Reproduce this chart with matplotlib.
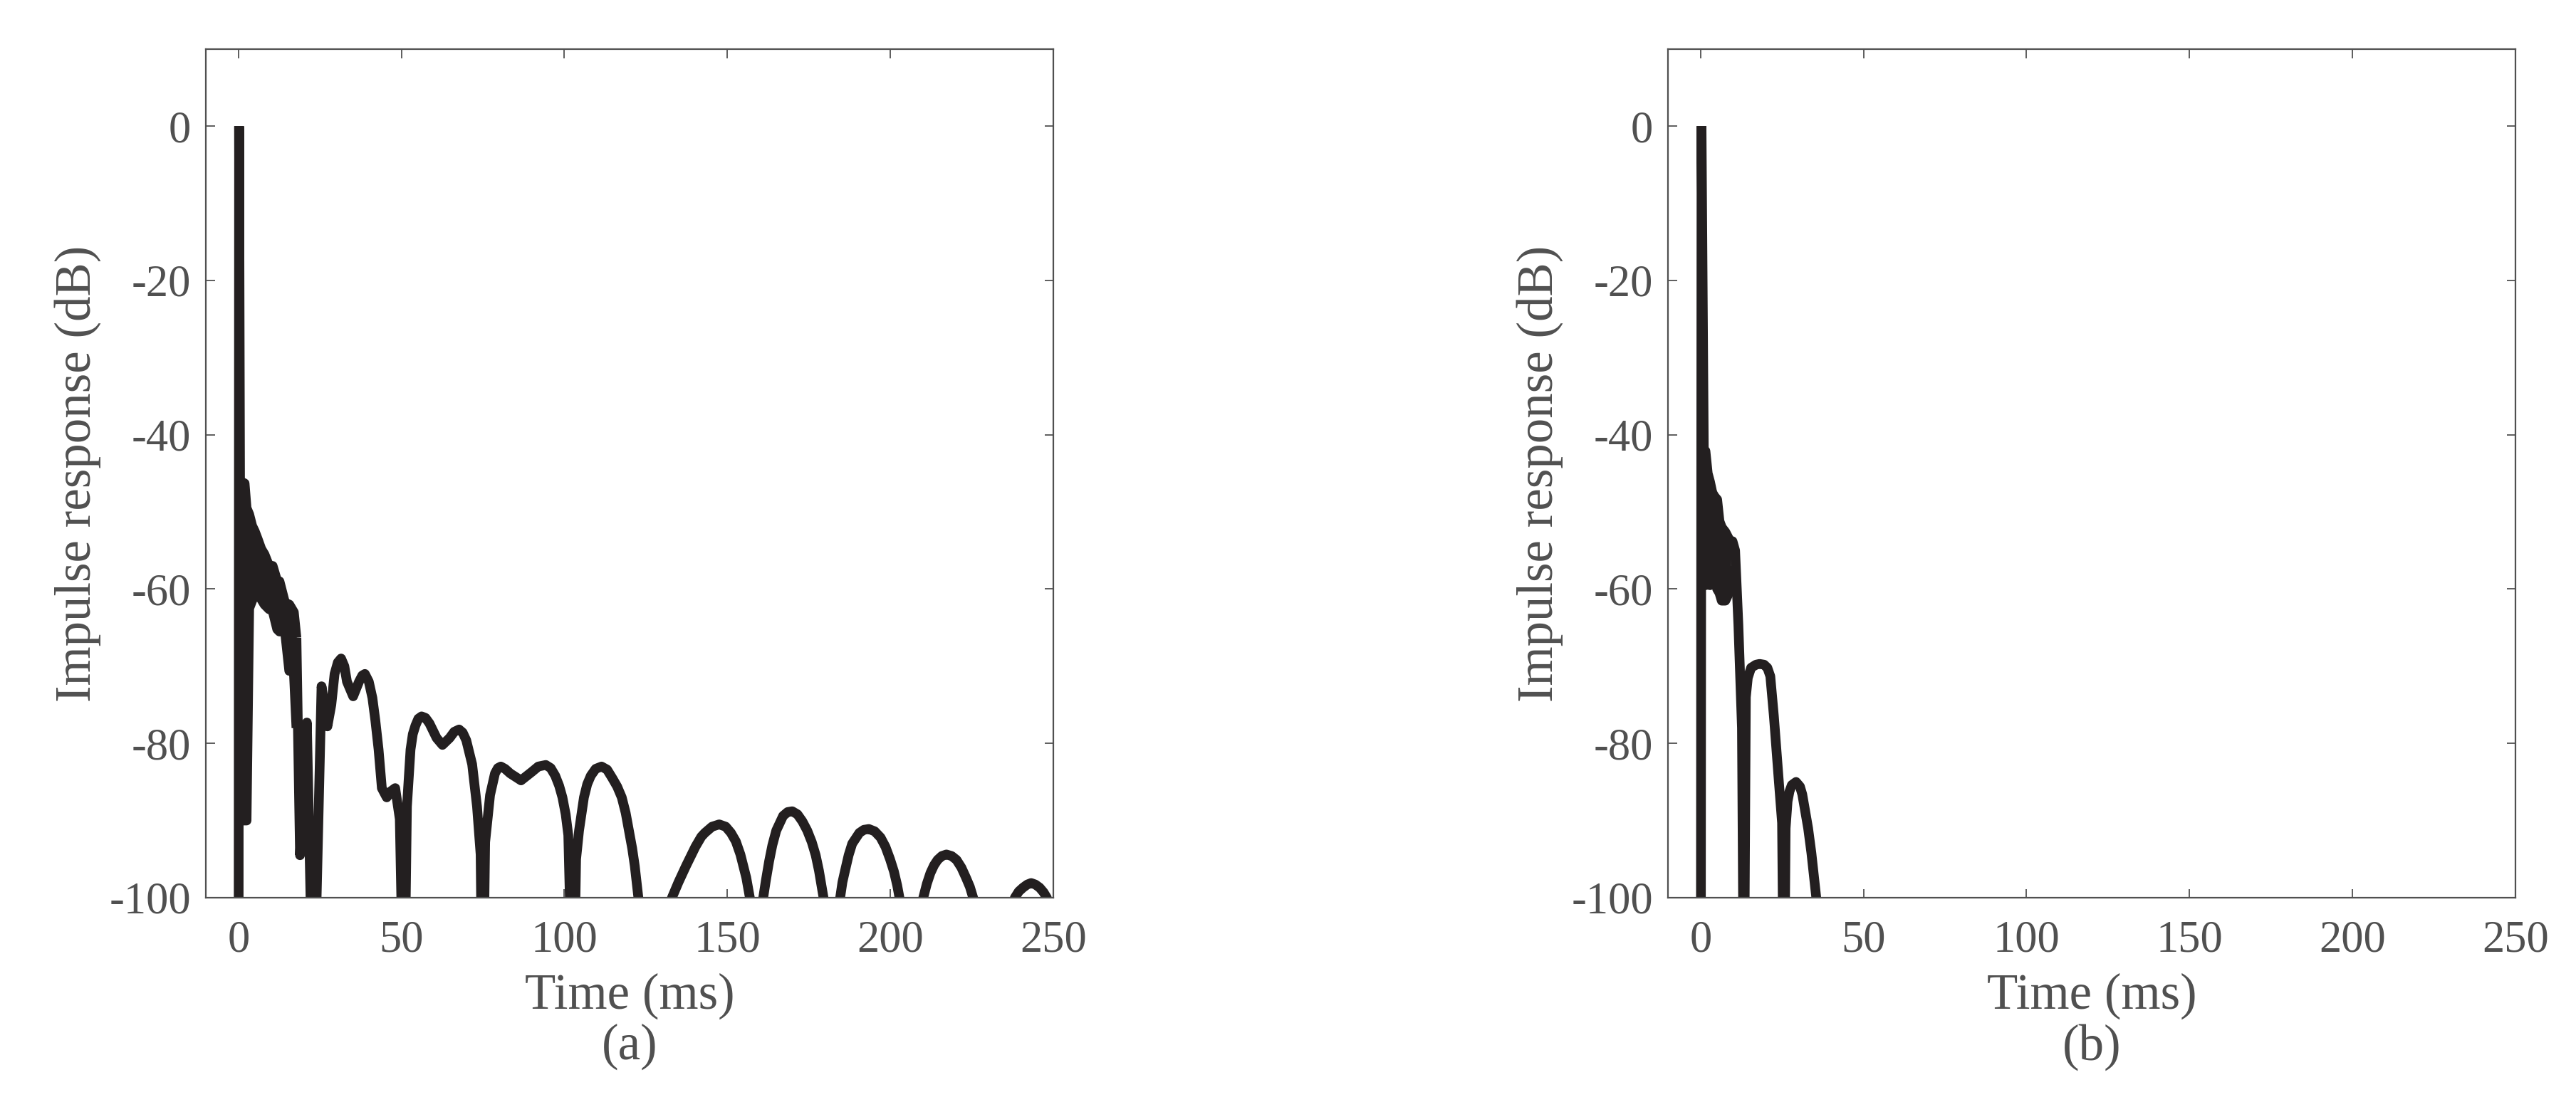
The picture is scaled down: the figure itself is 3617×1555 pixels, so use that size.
import matplotlib
matplotlib.use('Agg')
import matplotlib.pyplot as plt

plt.rcParams['font.family'] = ['Liberation Serif', 'DejaVu Serif']
plt.rcParams['axes.unicode_minus'] = False

# ---- panel (a): dense early part (upper / lower envelope of the fast ripple)
env_t_a = [0.5, 1.9, 2.5, 3.3, 4.2, 5.0, 5.9, 7.0, 8.0, 9.4, 10.5, 11.9, 12.6, 14.3, 15.6, 17.0, 17.8]
env_hi_a = [-46.0, -46.3, -49.5, -50.3, -51.8, -52.5, -53.5, -54.8, -55.5, -57.0, -57.0, -59.0, -59.0,
            -61.8, -62.0, -63.0, -66.3]
env_lo_a = [-90.0, -90.0, -90.0, -62.5, -61.5, -60.7, -60.8, -61.3, -62.0, -62.6, -62.8, -65.2, -65.5,
            -65.5, -70.6, -70.6, -78.0]

# direct sound spike
spike_t_a = [0.0, 0.2, 0.5]
spike_db_a = [-160.0, 0.0, -46.0]

# rest of the response (values under -100 are clipped by the axes)
t_a = [17.8, 18.9, 21.0, 23.0, 25.5, 27.3, 28.5, 29.5, 30.5, 31.5, 32.5, 33.3, 35.2, 37.0, 38.0, 38.8,
       40.0, 41.1, 42.0, 43.0, 44.0, 45.5, 46.8, 48.1, 49.5, 50.8, 51.7, 52.8, 53.5, 54.3, 55.2, 56.2,
       57.4, 58.6, 60.8, 62.6, 64.8, 66.2, 67.7, 68.8, 69.9, 71.7, 73.2, 74.3, 74.9, 75.7, 77.2, 78.7,
       79.6, 80.5, 81.8, 83.4, 86.7, 90.0, 92.0, 94.3, 95.8, 97.2, 98.4, 99.4, 100.4, 101.2, 102.7,
       103.6, 104.5, 106.0, 107.0, 108.1, 109.6, 111.4, 113.1, 114.7, 116.2, 117.6, 118.8, 119.8, 120.8,
       121.6, 122.7, 124.5, 131.0, 133.0, 135.0, 137.3, 140.2, 142.0, 143.1, 145.3, 147.5, 149.5, 151.1,
       152.6, 154.0, 155.8, 156.9, 158.8, 161.0, 161.8, 162.8, 163.8, 165.0, 167.1, 168.5, 169.9, 171.5,
       173.0, 174.5, 175.9, 177.1, 178.1, 179.5, 182.0, 184.6, 185.3, 186.1, 187.2, 188.3, 190.5, 191.9,
       193.4, 195.2, 197.0, 198.5, 199.9, 201.1, 202.1, 202.8, 206.5, 210.1, 211.2, 212.3, 213.4, 214.5,
       215.8, 217.2, 218.8, 220.3, 221.8, 223.2, 224.4, 225.4, 232.0, 238.2, 239.4, 240.7, 242.0, 243.2,
       244.5, 245.8, 247.0, 248.0, 250.0]
db_a = [-66.3, -94.5, -77.3, -118.0, -72.6, -77.8, -75.0, -71.0, -69.5, -69.0, -70.0, -72.0, -73.9, -72.0,
        -71.2, -71.0, -72.0, -74.1, -77.0, -80.8, -85.8, -87.0, -86.2, -85.8, -89.8, -118.0, -88.2, -80.8,
        -78.8, -77.7, -76.8, -76.5, -76.7, -77.4, -79.3, -80.2, -79.3, -78.5, -78.2, -78.6, -79.6, -82.7,
        -88.2, -94.4, -118.0, -92.8, -86.7, -83.9, -83.2, -83.0, -83.3, -83.9, -84.8, -83.7, -83.0, -82.8,
        -83.2, -84.2, -85.5, -87.0, -89.2, -91.9, -118.0, -95.0, -91.3, -87.0, -85.3, -84.2, -83.3, -83.0,
        -83.4, -84.5, -85.6, -87.0, -89.0, -91.3, -93.6, -95.9, -100.0, -125.0, -106.0, -100.0, -98.0,
        -95.9, -93.4, -92.1, -91.6, -90.8, -90.5, -90.8, -91.6, -92.7, -94.4, -97.4, -100.0, -118.0,
        -100.0, -97.8, -95.3, -93.2, -91.3, -89.4, -88.9, -88.8, -89.2, -90.1, -91.3, -92.8, -94.5, -96.5,
        -100.0, -118.0, -100.0, -98.0, -96.5, -94.5, -93.0, -91.6, -91.2, -91.1, -91.4, -92.2, -93.4,
        -95.0, -96.6, -98.4, -100.0, -118.0, -100.0, -98.2, -96.8, -95.8, -95.1, -94.6, -94.4, -94.6,
        -95.1, -96.1, -97.4, -98.6, -100.0, -118.0, -100.0, -99.2, -98.7, -98.3, -98.1, -98.3, -98.7,
        -99.3, -100.0, -108.0]

# ---- panel (b)
env_t_b = [1.0, 1.5, 2.2, 2.9, 3.6, 4.3, 5.1, 5.8, 6.5, 7.6, 8.7, 9.3]
env_hi_b = [-42.0, -42.1, -45.0, -46.1, -47.5, -48.0, -48.4, -51.2, -52.0, -52.6, -53.5, -54.5]
env_lo_b = [-59.5, -59.5, -59.4, -59.5, -56.0, -56.0, -60.0, -60.5, -61.5, -61.5, -60.5, -57.0]

spike_t_b = [0.0, 0.3, 1.0]
spike_db_b = [-160.0, 0.0, -42.0]

t_b = [9.3, 9.8, 10.6, 11.6, 12.7, 13.3, 13.9, 14.5, 15.5, 17.0, 18.1, 19.5, 20.5, 21.4, 22.5, 23.9,
       25.0, 25.6, 26.1, 26.7, 27.3, 28.0, 29.3, 30.5, 31.2, 31.9, 33.0, 34.0, 35.5, 37.5]
db_b = [-55.0, -53.8, -55.0, -64.6, -78.0, -118.0, -74.0, -71.5, -70.2, -69.8, -69.7, -69.8, -70.2, -71.3,
        -76.5, -84.3, -90.3, -118.0, -91.0, -87.5, -86.2, -85.4, -85.0, -85.6, -86.6, -88.3, -91.0, -94.2,
        -100.0, -125.0]

x_ticks = [0, 50, 100, 150, 200, 250]
y_ticks = [0, -20, -40, -60, -80, -100]
panel_tags = ['(a)', '(b)']

LINE = '#231f20'
GREY = '#505050'
LW = 9.8

fig = plt.figure(figsize=(36.17, 15.55), dpi=100)
ax_a = fig.add_axes([0.0799, 0.1891, 0.329, 0.7666])
ax_b = fig.add_axes([0.6475, 0.1891, 0.329, 0.7666])

panels = [
    (ax_a, env_t_a, env_hi_a, env_lo_a, spike_t_a, spike_db_a, t_a, db_a),
    (ax_b, env_t_b, env_hi_b, env_lo_b, spike_t_b, spike_db_b, t_b, db_b),
]

for (ax, et, ehi, elo, st, sdb, t, db), tag in zip(panels, panel_tags):
    ax.fill_between(et, elo, ehi, color=LINE, linewidth=0)
    kw = dict(color=LINE, lw=LW, solid_joinstyle='round', solid_capstyle='butt')
    ax.plot(et, ehi, **kw)
    ax.plot(et, elo, **kw)
    ax.plot(st, sdb, **dict(kw, solid_joinstyle='bevel'))
    ax.plot(t, db, **kw)

    ax.set_xlim(-10, 250)
    ax.set_ylim(-100, 10)
    ax.set_xticks(x_ticks)
    ax.set_yticks(y_ticks)
    ax.tick_params(direction='in', top=True, right=True, length=9, width=1.3,
                   colors=GREY, labelsize=45)
    ax.tick_params(axis='x', pad=23)
    ax.tick_params(axis='y', pad=15)
    for s in ax.spines.values():
        s.set_color(GREY)
        s.set_linewidth(1.6)

    ax.set_xlabel('Time (ms)', fontsize=51, color=GREY)
    ax.xaxis.set_label_coords(0.5, -0.089)
    ax.set_ylabel('Impulse response (dB)', fontsize=51, color=GREY, va='center')
    ax.yaxis.set_label_coords(-0.151, 0.5)
    ax.text(0.5, -0.176, tag, transform=ax.transAxes, ha='center', va='center',
            fontsize=51, color=GREY)

fig.savefig('out.png', dpi=100)
